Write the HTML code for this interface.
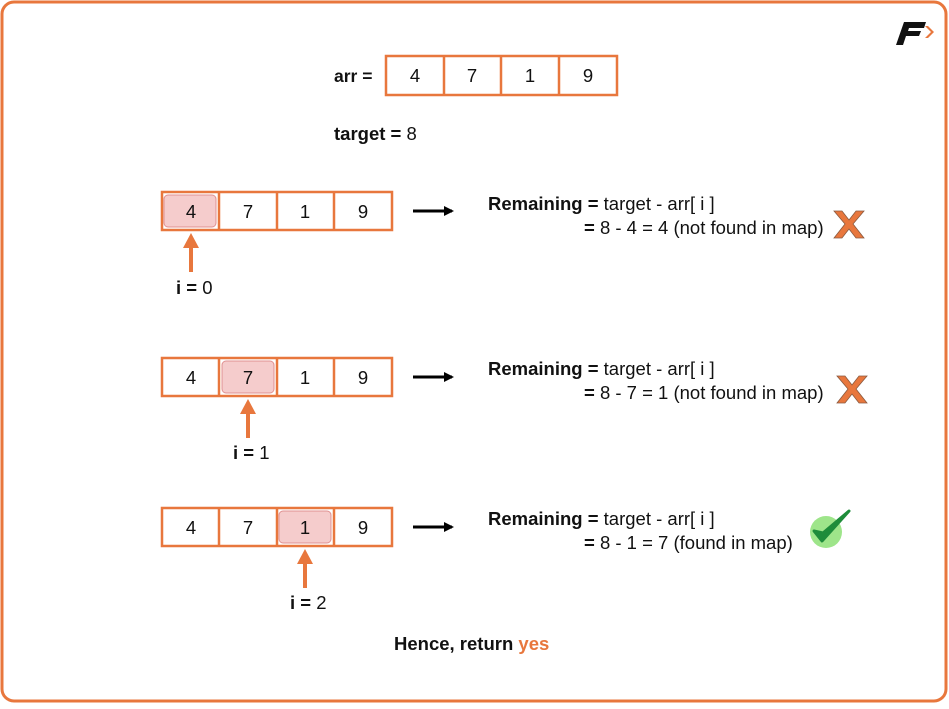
<!DOCTYPE html>
<html><head><meta charset="utf-8"><style>
body{margin:0;background:#fff;}
svg text{font-family:"Liberation Sans",sans-serif;font-size:18.5px;fill:#111;}
svg text.b{font-size:17.5px;}
</style></head><body>
<svg width="949" height="704" viewBox="0 0 949 704" xmlns="http://www.w3.org/2000/svg">
<defs>
<marker id="bk" markerWidth="10" markerHeight="10" refX="8" refY="5" orient="auto" markerUnits="userSpaceOnUse"><path d="M0,0 L10,5 L0,10 Z" fill="#000"/></marker>
<g id="xmark"><path d="M0,0 h8 l7,9 l7,-9 h8 l-11,13 l11,14 h-8 l-7,-9 l-7,9 h-8 l11,-14 Z" fill="#e8773d" stroke="#8a5a40" stroke-width="0.8"/></g>
</defs>
<rect x="2" y="2" width="944" height="699" rx="12" fill="#fff" stroke="#e8773d" stroke-width="3"/>
<path d="M904,22 h22 l-2,6 h-15 l-1,3 h13 l-2,5 h-13 l-3,9 h-7 Z" fill="#111"/>
<path d="M928,26 l6,6 l-6,6 h-3 l6,-6 l-6,-6 Z" fill="#e8773d"/>
<text x="334" y="82" font-weight="bold" class="b">arr =</text>
<g stroke="#e8773d" stroke-width="2.5" fill="#fff">
<rect x="386" y="56" width="231" height="39"/>
<line x1="444" y1="56" x2="444" y2="95"/><line x1="501" y1="56" x2="501" y2="95"/><line x1="559" y1="56" x2="559" y2="95"/>
</g>
<g text-anchor="middle"><text x="415" y="82">4</text><text x="472" y="82">7</text><text x="530" y="82">1</text><text x="588" y="82">9</text></g>
<text x="334" y="140"><tspan font-weight="bold">target =</tspan> 8</text>

<g id="r1">
<g stroke="#e8773d" stroke-width="2.5" fill="#fff">
<rect x="162" y="192" width="230" height="38"/>
<line x1="219" y1="192" x2="219" y2="230"/><line x1="277" y1="192" x2="277" y2="230"/><line x1="334" y1="192" x2="334" y2="230"/>
</g>
</g>
<rect x="164" y="195" width="52" height="32" rx="4" fill="#f5cccc" stroke="#e09090" stroke-width="1"/>
<g text-anchor="middle"><text x="191" y="218">4</text><text x="248" y="218">7</text><text x="305" y="218">1</text><text x="363" y="218">9</text></g>
<path d="M191,272 V246" stroke="#e8773d" stroke-width="4"/><path d="M183,248 L191,233 L199,248 Z" fill="#e8773d"/>
<text x="176" y="294"><tspan font-weight="bold">i =</tspan> 0</text>
<line x1="413" y1="211" x2="452" y2="211" stroke="#000" stroke-width="3" marker-end="url(#bk)"/>
<text x="488" y="210"><tspan font-weight="bold">Remaining =</tspan> target - arr[ i ]</text>
<text x="584" y="234"><tspan font-weight="bold">=</tspan> 8 - 4 = 4 (not found in map)</text>
<use href="#xmark" x="834" y="211"/>

<use href="#r1" y="166"/>
<rect x="222" y="361" width="52" height="32" rx="4" fill="#f5cccc" stroke="#e09090" stroke-width="1"/>
<g text-anchor="middle"><text x="191" y="384">4</text><text x="248" y="384">7</text><text x="305" y="384">1</text><text x="363" y="384">9</text></g>
<path d="M248,438 V412" stroke="#e8773d" stroke-width="4"/><path d="M240,414 L248,399 L256,414 Z" fill="#e8773d"/>
<text x="233" y="459"><tspan font-weight="bold">i =</tspan> 1</text>
<line x1="413" y1="377" x2="452" y2="377" stroke="#000" stroke-width="3" marker-end="url(#bk)"/>
<text x="488" y="375"><tspan font-weight="bold">Remaining =</tspan> target - arr[ i ]</text>
<text x="584" y="399"><tspan font-weight="bold">=</tspan> 8 - 7 = 1 (not found in map)</text>
<use href="#xmark" x="837" y="376"/>

<use href="#r1" y="316"/>
<rect x="279" y="511" width="52" height="32" rx="4" fill="#f5cccc" stroke="#e09090" stroke-width="1"/>
<g text-anchor="middle"><text x="191" y="534">4</text><text x="248" y="534">7</text><text x="305" y="534">1</text><text x="363" y="534">9</text></g>
<path d="M305,588 V562" stroke="#e8773d" stroke-width="4"/><path d="M297,564 L305,549 L313,564 Z" fill="#e8773d"/>
<text x="290" y="609"><tspan font-weight="bold">i =</tspan> 2</text>
<line x1="413" y1="527" x2="452" y2="527" stroke="#000" stroke-width="3" marker-end="url(#bk)"/>
<text x="488" y="525"><tspan font-weight="bold">Remaining =</tspan> target - arr[ i ]</text>
<text x="584" y="549"><tspan font-weight="bold">=</tspan> 8 - 1 = 7 (found in map)</text>
<circle cx="826" cy="532" r="16" fill="#9ee58a"/>
<path d="M814,531 l8,10 l27,-30 l-26,22 Z" fill="#1e8c3a" stroke="#1e8c3a" stroke-width="3" stroke-linejoin="round"/>

<text x="394" y="650" font-weight="bold">Hence, return <tspan fill="#e8773d">yes</tspan></text>
</svg>
</body></html>
